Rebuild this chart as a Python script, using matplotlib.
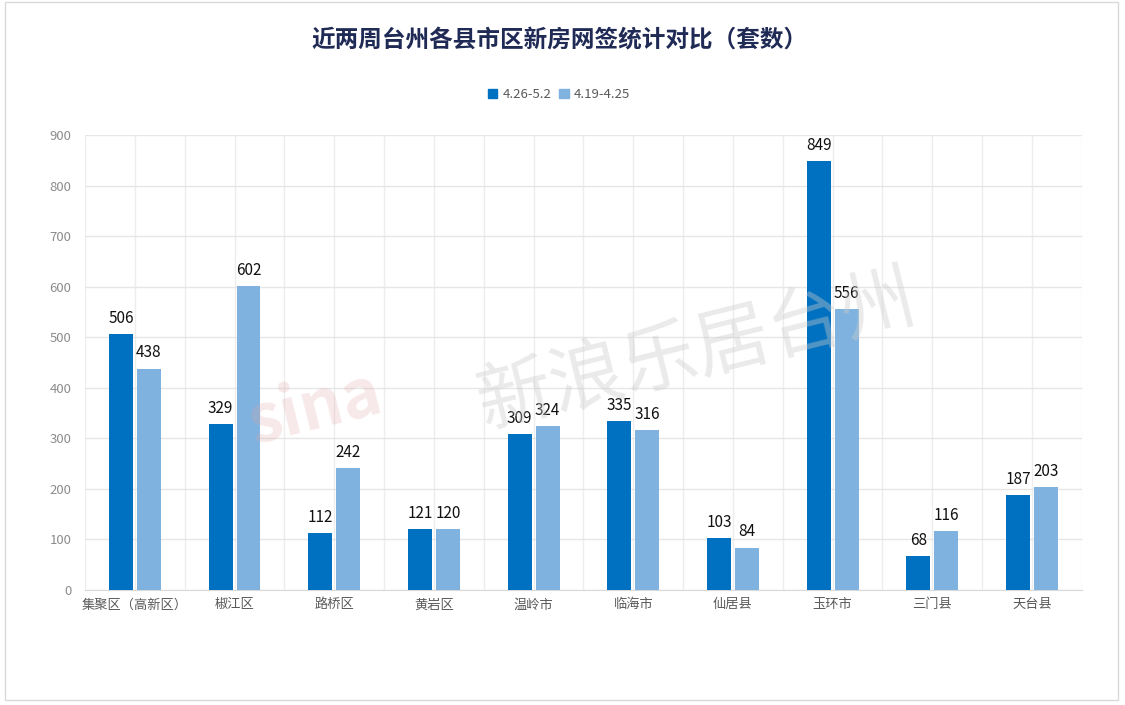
import matplotlib
matplotlib.use("Agg")
import matplotlib.pyplot as plt
from matplotlib.patches import Rectangle
import numpy as np

plt.rcParams['font.family'] = ['Noto Sans CJK SC', 'DejaVu Sans']

districts = ['集聚区（高新区）', '椒江区', '路桥区', '黄岩区', '温岭市',
             '临海市', '仙居县', '玉环市', '三门县', '天台县']
week_new = [506, 329, 112, 121, 309, 335, 103, 849, 68, 187]
week_old = [438, 602, 242, 120, 324, 316, 84, 556, 116, 203]
series_names = ['4.26-5.2', '4.19-4.25']
y_ticks = [0, 100, 200, 300, 400, 500, 600, 700, 800, 900]

dark = '#0070C0'
light = '#7FB2DE'

fig = plt.figure(figsize=(11.25, 7.05), dpi=100)
fig.patch.set_facecolor('white')
fig.patches.append(Rectangle((0.004, 0.007), 0.99, 0.99, transform=fig.transFigure,
                             fill=False, edgecolor='#D9D9D9', lw=1))

ax = fig.add_axes([0.0756, 0.1631, 0.886, 0.6454])
x = np.arange(len(districts))
w = 0.24
b1 = ax.bar(x - 0.14, week_new, w, color=dark, zorder=3)
b2 = ax.bar(x + 0.14, week_old, w, color=light, zorder=3)

for bars in (b1, b2):
    for r in bars:
        ax.text(r.get_x() + r.get_width() / 2, r.get_height() + 14, str(int(r.get_height())),
                ha='center', va='bottom', fontsize=11, color='#111111', zorder=4)

ax.set_xlim(-0.5, len(districts) - 0.5)
ax.set_ylim(0, 900)
ax.set_yticks(y_ticks)
ax.set_xticks(x)
ax.set_xticklabels(districts)
ax.tick_params(axis='x', length=0, colors='#595959', labelsize=9.5, pad=6)
ax.tick_params(axis='y', length=0, colors='#8C8C8C', labelsize=9.5, pad=10)
ax.grid(axis='y', color='#E6E6E6', lw=1, zorder=0)
for gx in np.arange(-0.5, len(districts), 0.5):
    ax.axvline(gx, color='#EDEDED', lw=1, zorder=0)
for s in ['top', 'right', 'left']:
    ax.spines[s].set_visible(False)
ax.spines['bottom'].set_color('#D9D9D9')

# watermark
fig.text(0.62, 0.50, '新浪乐居台州', fontsize=54, color='#CCCCCC', alpha=0.4,
         rotation=14, ha='center', va='center', zorder=0)
fig.text(0.28, 0.42, 'sina', fontsize=48, color='#E0A8A8', alpha=0.25, weight='bold',
         style='italic', rotation=14, ha='center', va='center', zorder=0)

fig.text(0.497, 0.943, '近两周台州各县市区新房网签统计对比（套数）', ha='center', va='center',
         fontsize=17, weight='bold', color='#1F2A55')

handles = [Rectangle((0, 0), 1, 1, color=dark), Rectangle((0, 0), 1, 1, color=light)]
fig.legend(handles, series_names, loc='center', bbox_to_anchor=(0.497, 0.866), ncol=2,
           frameon=False, fontsize=9.5, handlelength=0.7, handleheight=0.7,
           handletextpad=0.4, columnspacing=0.6, labelcolor='#595959')

fig.savefig('out.png', dpi=100, facecolor='white')
